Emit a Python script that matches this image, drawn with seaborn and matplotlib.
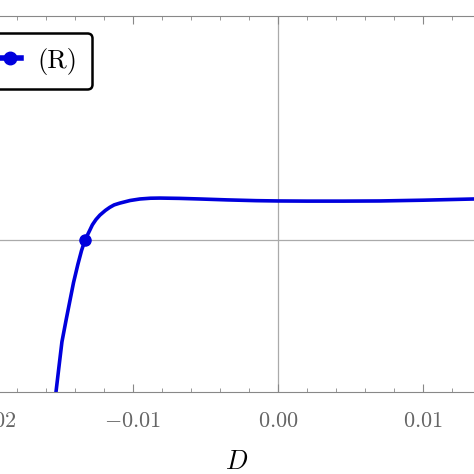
import matplotlib
matplotlib.use("Agg")
import matplotlib.pyplot as plt
import seaborn as sns
import numpy as np

# values (y in arbitrary units, grid line at 1)
d_vals = [-0.01531, -0.0151, -0.0149, -0.0146, -0.01434, -0.0141, -0.0138, -0.01355,
          -0.01331, -0.0130, -0.0128, -0.01255, -0.01228, -0.0119, -0.0116, -0.0113,
          -0.0109, -0.0102, -0.00952, -0.0088, -0.00814, -0.0068,
          -0.00538, -0.0035, -0.0015, 0.0, 0.002, 0.0045, 0.00703, 0.0100, 0.0135]
y_vals = [0.0, 0.17, 0.33, 0.48, 0.605, 0.72, 0.84, 0.93, 1.0, 1.06, 1.10, 1.135,
          1.164, 1.195, 1.215, 1.231, 1.243, 1.26, 1.27, 1.275, 1.276, 1.274, 1.27,
          1.264, 1.259, 1.257, 1.256, 1.256, 1.257, 1.262, 1.27]
point_d = [-0.01331]
point_y = [1.0]
xticks = [-0.02, -0.01, 0.0, 0.01]
xtick_labels = ["$-0.02$", "$-0.01$", "$0.00$", "$0.01$"]

plt.rcParams["mathtext.fontset"] = "cm"
plt.rcParams["font.family"] = ["DejaVu Serif"]

fig = plt.figure(figsize=(4.74, 4.74), dpi=100)
ax = fig.add_axes([-60 / 474, (474 - 392) / 474, 594 / 474, 376 / 474])

sns.lineplot(x=d_vals, y=y_vals, ax=ax, color="#0000dd", linewidth=2.6, sort=False)
ax.plot(point_d, point_y, "o", color="#0000dd", markersize=8, zorder=5)

ax.set_xlim(-0.02331, 0.01766)
ax.set_ylim(0, 2.474)
ax.axvline(0, color="#aaaaaa", linewidth=0.9, zorder=0)
ax.axhline(1, color="#aaaaaa", linewidth=0.9, zorder=0)

ax.set_xticks(xticks)
ax.set_xticklabels(xtick_labels, color="#666666", fontsize=16)
ax.set_xticks(np.arange(-0.022, 0.018, 0.002), minor=True)
ax.tick_params(axis="x", which="major", direction="in", length=6, color="#888888",
               top=True, pad=13)
ax.tick_params(axis="x", which="minor", direction="in", length=3, color="#888888",
               top=True)
ax.set_yticks([])
for s in ["top", "bottom"]:
    ax.spines[s].set_color("#888888")
for s in ["left", "right"]:
    ax.spines[s].set_visible(False)
ax.set_xlabel("$D$", fontsize=19, labelpad=12)

handle, = ax.plot([], [], "o-", color="#0000dd", markersize=9, linewidth=4)
leg = ax.legend([handle], ["(R)"], loc="upper left", bbox_to_anchor=(-30 / 474, 1 - 20 / 474),
                bbox_transform=fig.transFigure, frameon=True, fancybox=True,
                edgecolor="black", handlelength=0.9, handletextpad=0.6, borderpad=0.55,
                prop={"family": "cmr10", "size": 19})
leg.get_frame().set_linewidth(1.8)
leg.get_frame().set_alpha(1)

fig.savefig("out.png", dpi=100)
